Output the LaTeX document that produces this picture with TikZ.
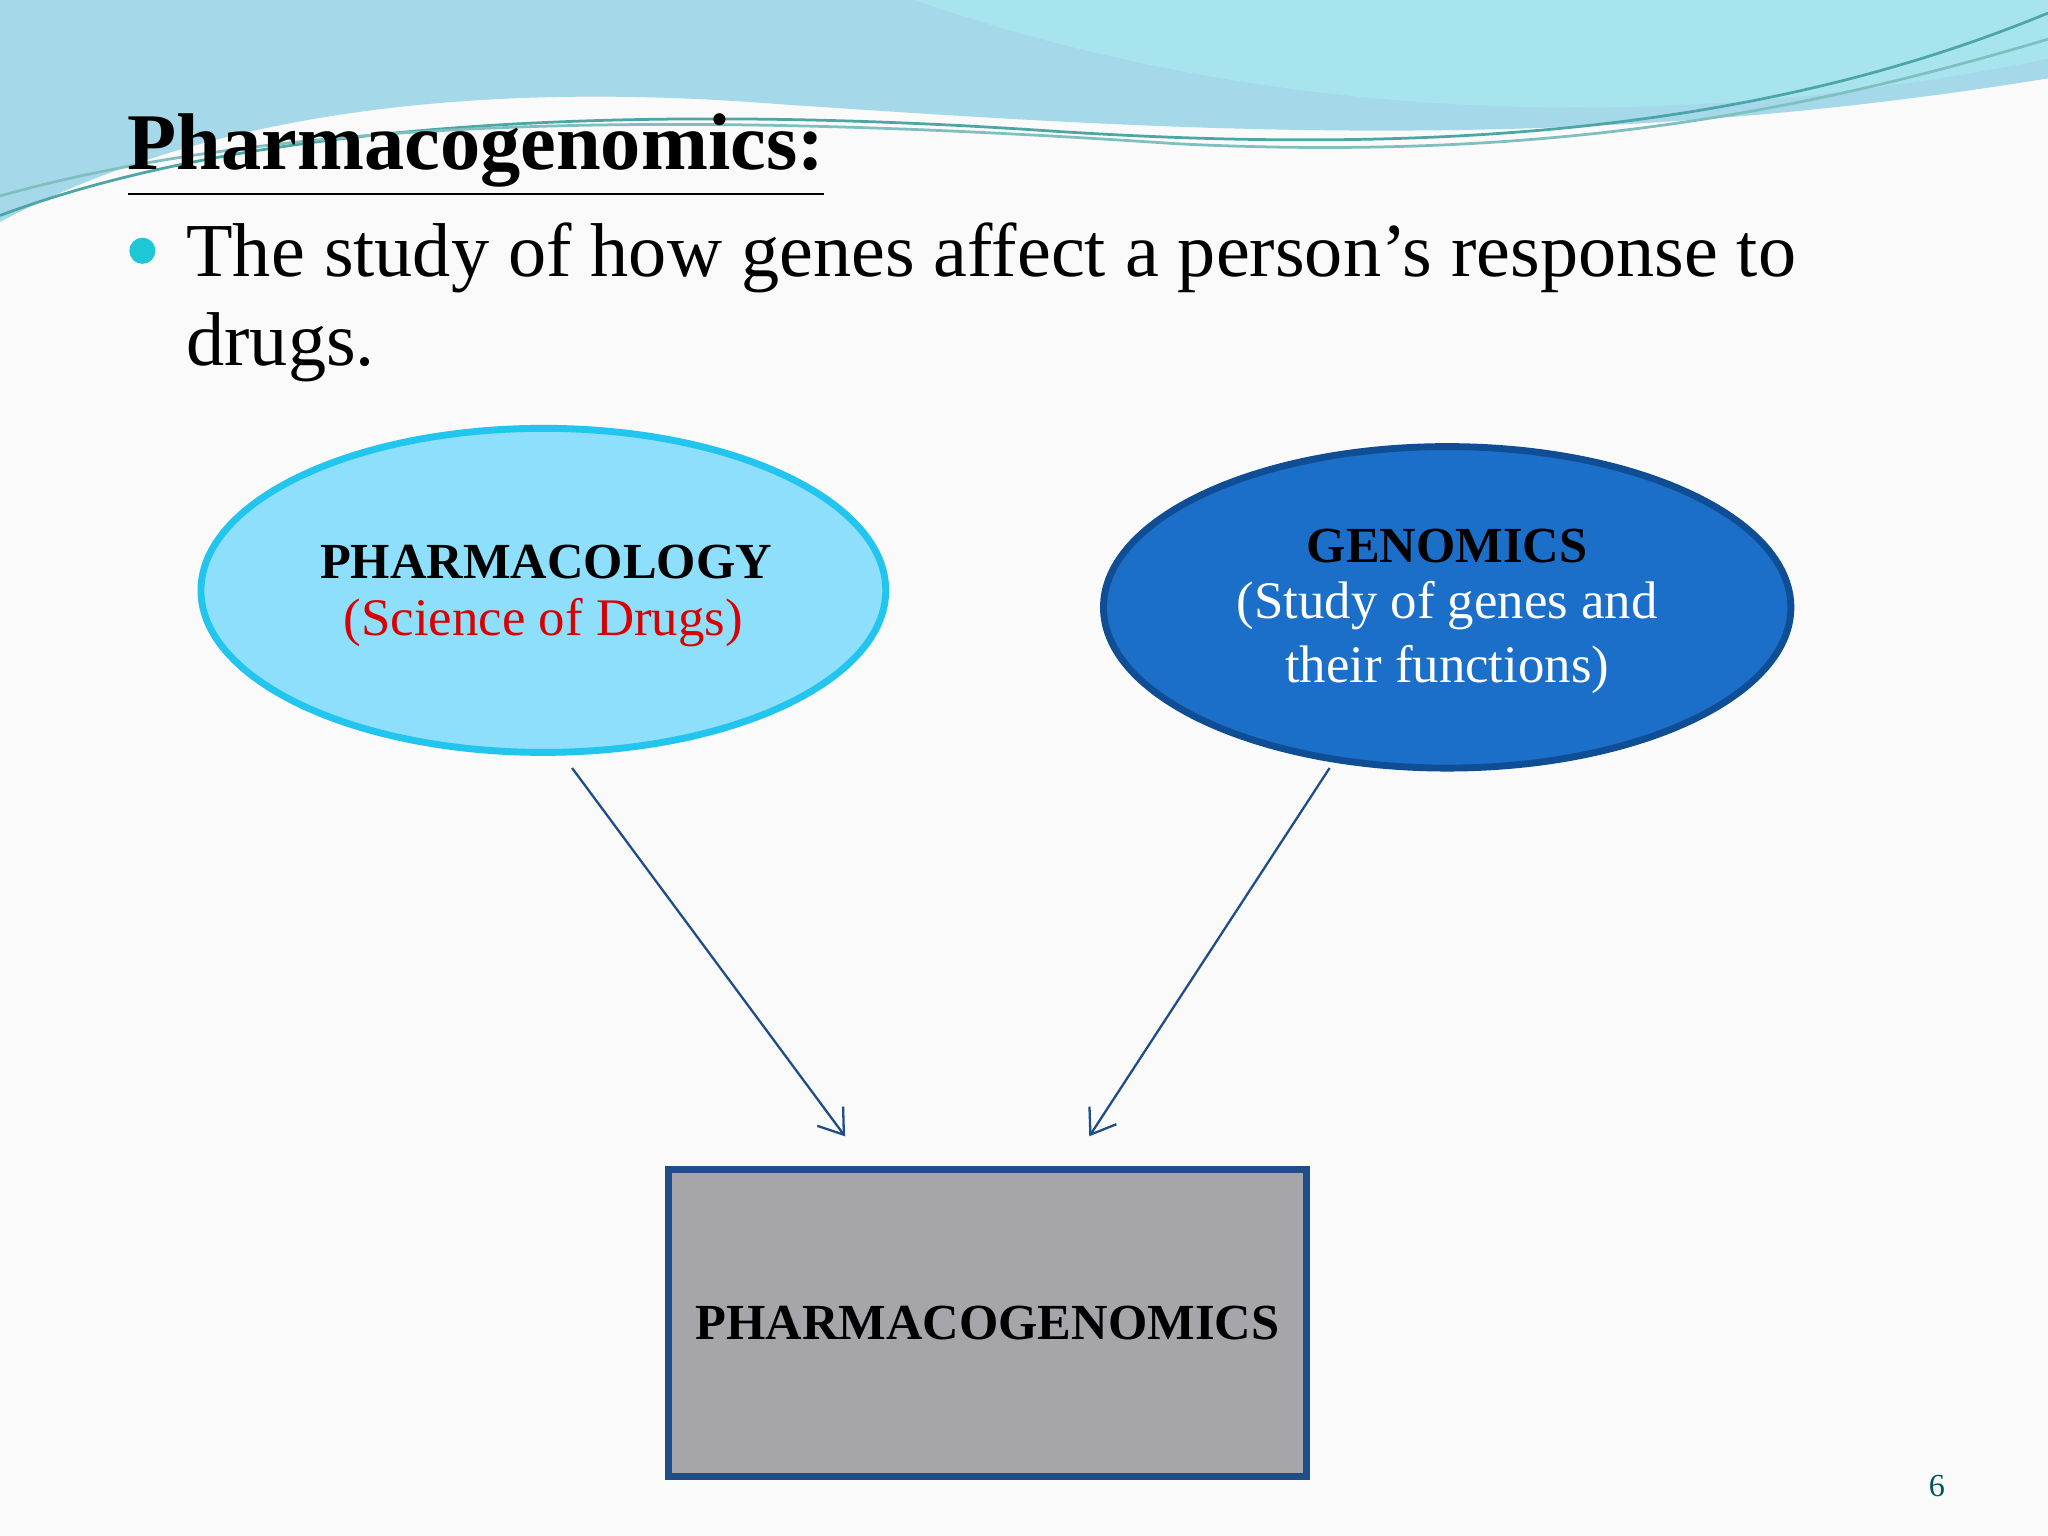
\documentclass[tikz,border=0pt]{standalone}
\usepackage{fontspec}
\setmainfont{Liberation Serif}
\usetikzlibrary{shapes.geometric,arrows.meta}
\definecolor{lb}{HTML}{8EDFFB}
\definecolor{lbb}{HTML}{22C5EE}
\definecolor{db}{HTML}{1C6FC8}
\definecolor{dbb}{HTML}{0F4E95}
\definecolor{gr}{HTML}{A6A5AA}
\definecolor{arr}{HTML}{1F4E86}
\definecolor{wave1}{HTML}{7FC8E0}
\definecolor{wave2}{HTML}{A8E4EE}
\definecolor{bull}{HTML}{1CC7D6}
\begin{document}
\begin{tikzpicture}[x=0.01cm,y=-0.01cm,
  lbl/.style={font=\fontsize{11}{13}\selectfont\bfseries},
  conn/.style={draw=arr,line width=0.5pt,-{Straight Barb[length=5pt,width=7pt]}}]
\useasboundingbox[fill=white!96!gray] (0,0) rectangle (1568,1176);
% top waves
\fill[wave1] (0,0) -- (700,0) .. controls (900,60) and (1200,110) .. (1568,40) -- (1568,0) -- cycle;
\fill[wave1!70!white] (0,0) -- (0,170) .. controls (150,90) and (350,60) .. (600,80) .. controls (900,100) and (1200,120) .. (1568,60) -- (1568,0) -- (700,0) -- cycle;
\fill[wave2] (700,0) .. controls (900,70) and (1200,120) .. (1568,45) -- (1568,0) -- cycle;
\draw[teal!70,line width=0.6pt] (0,165) .. controls (200,90) and (500,80) .. (800,100) .. controls (1100,120) and (1350,100) .. (1568,10);
\draw[teal!50,line width=0.6pt] (0,150) .. controls (250,80) and (600,90) .. (900,110) .. controls (1200,125) and (1400,80) .. (1568,30);
% title
\node[anchor=base west,inner sep=0,font=\fontsize{17.5}{20}\selectfont\bfseries] (title) at (97,130) {\underline{Pharmacogenomics:}};
\fill[bull] (109,192) circle (10);
\node[anchor=base west,inner sep=0,align=left,font=\fontsize{16.6}{20}\selectfont] (bul) at (142,212) {The study of how genes affect a person’s response to};
\node[anchor=base west,inner sep=0,font=\fontsize{16.6}{20}\selectfont] (bul2) at (142,280) {drugs.};
% ellipses
\node[ellipse,draw=lbb,fill=lb,line width=1.5pt,minimum width=5.24cm,minimum height=2.48cm,inner sep=0] (pharm) at (416,452) {};
\node[lbl] at (418,430) {PHARMACOLOGY};
\node[font=\fontsize{11.5}{13}\selectfont,text=red!85!black] at (416,477) {(Science of Drugs)};
\node[ellipse,draw=dbb,fill=db,line width=1.5pt,minimum width=5.26cm,minimum height=2.46cm,inner sep=0] (gen) at (1108,465) {};
\node[lbl] at (1108,418) {GENOMICS};
\node[font=\fontsize{11.5}{14}\selectfont,text=white,align=center] at (1108,488) {(Study of genes and\\their functions)};
% box
\node[draw=arr,fill=gr,line width=1.5pt,minimum width=4.88cm,minimum height=2.35cm,lbl] (box) at (756,1013) {PHARMACOGENOMICS};
% arrows
\coordinate (a1) at (438,588);
\coordinate (b1) at (647,870);
\coordinate (a2) at (1018,588);
\coordinate (b2) at (834,870);
\draw[conn] (a1) -- (b1);
\draw[conn] (a2) -- (b2);
\node[font=\fontsize{7}{8}\selectfont,text=teal!70!black] (pg) at (1483,1138) {6};
\end{tikzpicture}
\end{document}
